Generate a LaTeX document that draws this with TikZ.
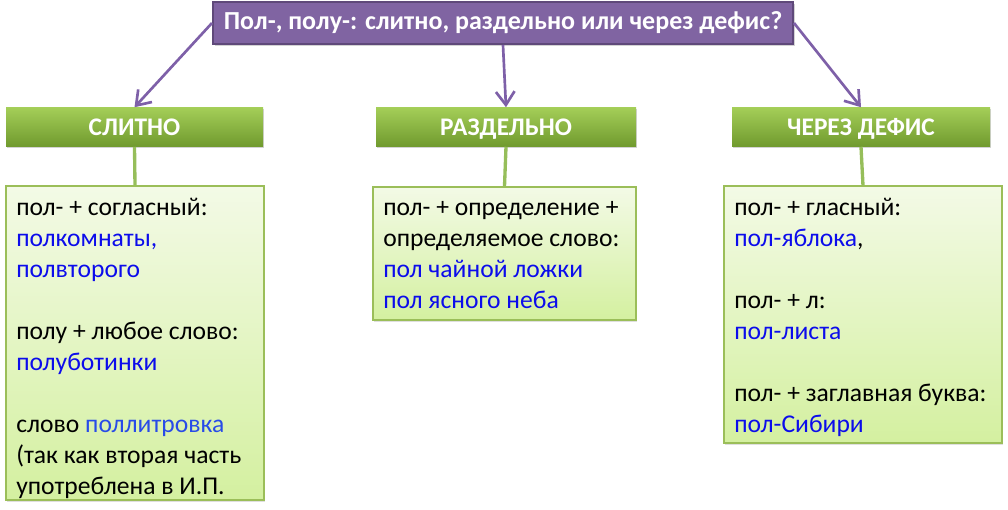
\documentclass[tikz,border=0pt]{standalone}
\usepackage{fontspec}
\setmainfont{Carlito}
\usetikzlibrary{arrows.meta,shadows}
\definecolor{purp}{RGB}{128,100,162}
\definecolor{purpdark}{RGB}{95,73,122}
\definecolor{arrowpurp}{RGB}{126,96,168}
\definecolor{hdrtop}{RGB}{164,206,88}
\definecolor{hdrbot}{RGB}{112,154,46}
\definecolor{boxtop}{RGB}{243,250,230}
\definecolor{boxbot}{RGB}{212,240,160}
\definecolor{boxline}{RGB}{155,190,89}
\definecolor{linkgreen}{RGB}{150,190,90}
\definecolor{ex}{RGB}{12,12,235}
\definecolor{exb}{RGB}{40,75,232}
\begin{document}
\begin{tikzpicture}[x=0.75pt,y=-0.75pt,
  titlebox/.style={draw=purpdark,line width=1.5pt,fill=purp,text=white,
    font=\bfseries\fontsize{19.5}{24}\selectfont,
    minimum width=435pt,minimum height=31.5pt,inner sep=0pt,
    drop shadow={opacity=0.35,shadow xshift=1.5pt,shadow yshift=-1.5pt}},
  hdr/.style={top color=hdrtop,bottom color=hdrbot,draw=none,text=white,
    font=\bfseries\fontsize{19}{22}\selectfont,
    text height=12.2pt,text depth=0pt,
    minimum height=29.25pt,inner sep=0pt,
    drop shadow={opacity=0.35,shadow xshift=1pt,shadow yshift=-1.5pt}},
  tbox/.style={top color=boxtop,bottom color=boxbot,draw=boxline,line width=0.8pt,
    inner sep=0pt,
    drop shadow={opacity=0.25,shadow xshift=1pt,shadow yshift=-1.5pt}},
  txt/.style={anchor=base west,inner sep=0pt,font=\fontsize{19.2}{22}\selectfont},
  parr/.style={draw=arrowpurp,line width=2pt,-{Straight Barb[length=10pt,width=14pt,line width=2pt]}},
  glink/.style={draw=linkgreen,line width=2.5pt}
]
\useasboundingbox (0,0) rectangle (1008,510);

% boxes
\node[titlebox] (title) at (503,23) {Пол-, полу-: слитно, раздельно или через дефис?};

\node[hdr,minimum width=192.75pt] (h1) at (134.5,127) {СЛИТНО};
\node[hdr,minimum width=195pt] (h2) at (506,127) {РАЗДЕЛЬНО};
\node[hdr,minimum width=193.5pt] (h3) at (861,127) {ЧЕРЕЗ ДЕФИС};

\node[tbox,minimum width=193.5pt,minimum height=235.5pt] (b1) at (135,343) {};
\node[tbox,minimum width=197.25pt,minimum height=99.75pt] (b2) at (504.5,253.5) {};
\node[tbox,minimum width=208.5pt,minimum height=192.75pt] (b3) at (863,314.5) {};

% connectors
\draw[glink] (h1.south) -- (b1.north);
\draw[glink] (h2.south) -- (b2.north);
\draw[glink] (h3.south) -- (b3.north);

\draw[parr] (title.west) -- (h1.north);
\draw[parr] (title.south) -- (h2.north);
\draw[parr] (title.east) -- (h3.north);

% left text
\node[txt] (a1) at (16,215) {пол- + согласный:};
\node[txt,text=ex] (a2) at (16,246) {полкомнаты,};
\node[txt,text=ex] (a3) at (16,277) {полвторого};
\node[txt] (a4) at (16,339) {полу + любое слово:};
\node[txt,text=ex] (a5) at (16,370) {полуботинки};
\node[txt] (a6) at (16,432) {слово \textcolor{exb}{поллитровка}};
\node[txt] (a7) at (16,463) {(так как вторая часть};
\node[txt] (a8) at (16,494) {употреблена в И.П.};

% middle text
\node[txt] (m1) at (383,215) {пол- + определение +};
\node[txt] (m2) at (383,246) {определяемое слово:};
\node[txt,text=ex] (m3) at (383,277) {пол чайной ложки};
\node[txt,text=ex] (m4) at (383,308) {пол ясного неба};

% right text
\node[txt] (r1) at (734,215) {пол- + гласный:};
\node[txt] (r2) at (734,246) {\textcolor{ex}{пол-яблока},};
\node[txt] (r3) at (734,308) {пол- + л:};
\node[txt,text=ex] (r4) at (734,339) {пол-листа};
\node[txt] (r5) at (734,401) {пол- + заглавная буква:};
\node[txt,text=ex] (r6) at (734,432) {пол-Сибири};
\end{tikzpicture}
\end{document}
